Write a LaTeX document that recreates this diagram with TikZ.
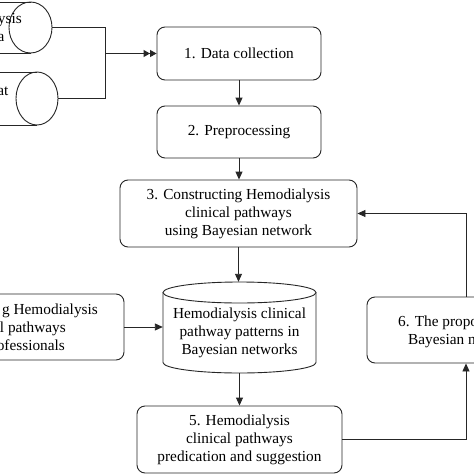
\documentclass[tikz,border=0pt]{standalone}
\usepackage{fontspec}
\setmainfont{Liberation Serif}
\usetikzlibrary{arrows.meta}
\begin{document}
\begin{tikzpicture}[x=1pt,y=-1pt,
  box/.style={draw=black!85, rounded corners=8pt, line width=0.9pt, align=center, inner sep=0pt, font=\fontsize{15.3}{18}\selectfont},
  arr/.style={draw=black!85, line width=0.9pt, -{Triangle[length=8pt,width=7pt]}},
  darr/.style={draw=black!85, line width=0.9pt, -{Triangle[length=6.5pt,width=7pt]Triangle[length=6.5pt,width=7pt]}},
  ln/.style={draw=black!85, line width=0.9pt},
  txt/.style={font=\fontsize{15.3}{18}\selectfont, inner sep=0pt}]
\useasboundingbox (0,0) rectangle (474,474);
\clip (0,0) rectangle (474,474);
\fill[white] (0,0) rectangle (474,474);

% top-left data stores
\draw[ln] (-20,2) -- (30.5,2);
\draw[ln] (-20,53) -- (30.5,53);
\draw[ln] (30.5,27.5) ellipse [x radius=21.5pt, y radius=25.5pt];
\draw[ln] (-20,72) -- (37,72);
\draw[ln] (-20,125) -- (37,125);
\draw[ln] (37,98.5) ellipse [x radius=21pt, y radius=26.5pt];
\node[txt, anchor=base east] (s1a) at (22,23) {ysis};
\node[txt, anchor=base east] (s1b) at (4.5,41) {a};
\node[txt, anchor=base east] (s2a) at (8.5,95) {at};
\coordinate (cy1) at (52,27.5);
\coordinate (cy2) at (58,98.5);
\coordinate (ja) at (105,27.5);
\coordinate (jb) at (105,98.5);
\coordinate (j) at (105,53.5);

% boxes
\node[box, minimum width=164pt, minimum height=53pt] (b1) at (239,53.5) {1. Data collection};
\node[box, minimum width=164pt, minimum height=52pt] (b2) at (239,132) {2. Preprocessing};
\node[box, minimum width=237pt, minimum height=67pt] (b3) at (238.5,213.5) {3. Constructing Hemodialysis\\clinical pathways\\using Bayesian network};

% database cylinder
\node[minimum width=153pt, minimum height=91pt, inner sep=0pt] (db) at (239.5,327.5) {};
\draw[ln] (163,292.5) -- (163,362.5) arc[start angle=180, end angle=360, x radius=76.5pt, y radius=10.5pt] -- (316,292.5);
\draw[ln] (239.5,292.5) ellipse [x radius=76.5pt, y radius=10.5pt];
\node[txt, align=center] (dbt) at (239.5,333) {Hemodialysis clinical\\pathway patterns in\\Bayesian networks};

\node[box, minimum width=184pt, minimum height=66pt] (b4) at (32,327) {};
\node[txt, anchor=base east] (t4a) at (98,314) {g Hemodialysis};
\node[txt, anchor=base east] (t4b) at (66,332) {l pathways};
\node[txt, anchor=base east] (t4c) at (65,350) {ofessionals};

\node[box, minimum width=205pt, minimum height=67pt] (b5) at (239.5,439.5) {5. Hemodialysis\\clinical pathways\\predication and suggestion};

\node[box, minimum width=200pt, minimum height=66pt] (b6) at (467,330) {};
\node[txt, anchor=base west] (t6a) at (398,326) {6. The propo};
\node[txt, anchor=base west] (t6b) at (408,344) {Bayesian n};
\coordinate (c6) at (466,330);

% connectors
\draw[ln] (cy1) -- (ja) -- (jb) -- (cy2);
\draw[darr] (j) -- (b1.west);
\draw[arr] (b1.south) -- (b2.north);
\draw[arr] (b2.south) -- (b2.south |- b3.north);
\draw[arr] (b3.south) -- (b3.south |- db.north);
\draw[arr] (b4.east) -- (b4.east -| db.west);
\draw[arr] (db.south) -- (db.south |- b5.north);
\draw[arr] (b5.east) -| (c6 |- b6.south);
\draw[arr] (c6 |- b6.north) |- (b3.east);
\end{tikzpicture}
\end{document}
